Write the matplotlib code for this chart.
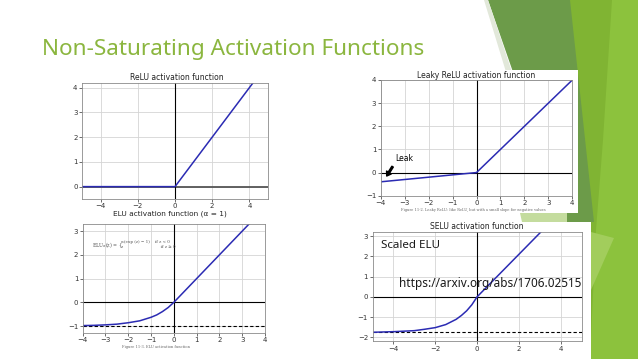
import matplotlib
matplotlib.use("Agg")
import matplotlib.pyplot as plt
from matplotlib.patches import Polygon, Rectangle

W, H = 638, 359

# values
relu_x = [-5, 0, 5]
relu_y = [0, 0, 5]

leaky_x = [-4, 0, 4]
leaky_y = [-0.4, 0, 4]

elu_x = [-4, -3.5, -3, -2.5, -2, -1.5, -1, -0.75, -0.5, -0.25, 0, 1, 2, 3, 3.5]
elu_y = [-0.98, -0.97, -0.95, -0.92, -0.86, -0.78, -0.63, -0.53, -0.39, -0.22, 0, 1, 2, 3, 3.5]
elu_floor = -1

selu_x = [-5, -4, -3, -2.5, -2, -1.5, -1, -0.75, -0.5, -0.25, 0, 1, 2, 3, 3.3]
selu_y = [-1.75, -1.72, -1.67, -1.60, -1.52, -1.37, -1.11, -0.92, -0.69, -0.39, 0, 1.05, 2.1, 3.15, 3.47]
selu_floor = -1.758

BLUE = "#2b2bb3"


def px(x, y):
    return x / W, 1 - y / H


def add_axes(x0, y0, x1, y1):
    # pixel box -> figure axes
    ax = fig.add_axes([x0 / W, 1 - y1 / H, (x1 - x0) / W, (y1 - y0) / H], zorder=2)
    ax.set_facecolor("white")
    ax.grid(True, color="#d4d4d4", lw=0.6)
    ax.set_axisbelow(True)
    ax.tick_params(labelsize=5, length=2, width=0.5, pad=1.2, colors="#333333")
    for s in ax.spines.values():
        s.set_color("#8a8a8a")
        s.set_linewidth(0.6)
    return ax


def fit_text(x, y, s, width, **kw):
    t = fig.text(*px(x, y), s, **kw)
    r = fig.canvas.get_renderer()
    w = t.get_window_extent(r).width
    t.set_fontsize(t.get_fontsize() * width / w)
    return t


fig = plt.figure(figsize=(W / 100, H / 100), dpi=100)
fig.patch.set_facecolor("white")

# slide background shapes
bg = fig.add_axes([0, 0, 1, 1], zorder=0)
bg.set_xlim(0, W)
bg.set_ylim(H, 0)
bg.axis("off")
bg.add_patch(Polygon([(568, 0), (638, 0), (638, 359), (588, 359)], color="#80b433", lw=0))
bg.add_patch(Polygon([(612, 0), (638, 0), (638, 359), (590, 359), (596, 230), (603, 140)],
                     color="#8cc23d", lw=0))
bg.add_patch(Polygon([(591, 232), (614, 238), (591, 290)], color="#a2cd5c", lw=0))
bg.add_patch(Polygon([(488, 0), (570, 0), (594, 222), (565, 222)], color="#6c9b49", lw=0))
bg.add_patch(Polygon([(484, 0), (488, 0), (512, 72), (506, 72)], color="#e2e8da", lw=0))
bg.add_patch(Polygon([(520, 213), (567, 213), (567, 222), (522, 222)], color="#c4dc9e", lw=0))
# white image panels
bg.add_patch(Rectangle((356, 70), 222, 143, color="white", lw=0))
bg.add_patch(Rectangle((352, 222), 239, 140, color="white", lw=0))

fit_text(42, 49, "Non-Saturating Activation Functions", 382,
         fontsize=17, color="#8bb63f", family="Noto Sans", va="center")

# ReLU
ax = add_axes(82, 82.7, 268, 199)
ax.plot([-5, 5], [0, 0], color="#555555", lw=1.3)
ax.axvline(0, color="black", lw=0.8)
ax.plot(relu_x, relu_y, color=BLUE, lw=1.1)
ax.set_xlim(-5, 5)
ax.set_ylim(-0.5, 4.2)
ax.set_xticks([-4, -2, 0, 2, 4])
ax.set_yticks([0, 1, 2, 3, 4])
fig.text(*px(176.7, 77.7), "ReLU activation function", fontsize=5.5,
         ha="center", va="center", color="#222222")

# Leaky ReLU
ax = add_axes(380.7, 80, 572.3, 195.7)
ax.axhline(0, color="black", lw=0.8)
ax.axvline(0, color="black", lw=0.8)
ax.plot(leaky_x, leaky_y, color=BLUE, lw=1.1)
ax.set_xlim(-4, 4)
ax.set_ylim(-1, 4)
ax.annotate("Leak", xy=(-3.78, -0.2), xytext=(-3.4, 0.62), fontsize=5.5,
            va="center", ha="left",
            arrowprops=dict(facecolor="black", edgecolor="black", shrink=0.08,
                            width=1.2, headwidth=4, headlength=3))
fig.text(*px(476, 75), "Leaky ReLU activation function", fontsize=5.5,
         ha="center", va="center", color="#222222")
fig.text(*px(473, 210.5),
         "Figure 11-2. Leaky ReLU: like ReLU, but with a small slope for negative values",
         fontsize=2.6, family="DejaVu Serif", ha="center", va="center", color="#666666")

# ELU
ax = add_axes(82.7, 224, 265, 332.7)
ax.axhline(0, color="black", lw=0.8)
ax.axvline(0, color="black", lw=0.8)
ax.axhline(elu_floor, color="black", lw=0.8, ls="--", dashes=(3, 2))
ax.plot(elu_x, elu_y, color=BLUE, lw=1.1)
ax.set_xlim(-4, 4)
ax.set_ylim(-1.28, 3.3)
ax.set_yticks([-1, 0, 1, 2, 3])
ax.text(-3.6, 2.43, r"ELU$_\alpha$(z) = $\{$", fontsize=3.4, family="DejaVu Serif",
        va="center", color="#555555")
ax.text(-2.3, 2.55, "\u03b1(exp (z) \u2212 1)    if z < 0", fontsize=3.0,
        family="DejaVu Serif", va="center", color="#555555")
ax.text(-2.3, 2.32, "z                              if z \u2265 0", fontsize=3.0,
        family="DejaVu Serif", va="center", color="#555555")
fig.text(*px(170, 213.5), "ELU activation function (\u03b1 = 1)", fontsize=5.3,
         ha="center", va="center", color="#222222")
fig.text(*px(156, 347), "Figure 11-3. ELU activation function", fontsize=2.6,
         family="DejaVu Serif", ha="center", va="center", color="#666666")

# SELU
ax = add_axes(372.5, 232, 581.7, 341.4)
ax.axhline(0, color="black", lw=0.8)
ax.axvline(0, color="black", lw=0.8)
ax.axhline(selu_floor, color="black", lw=0.8, ls="--", dashes=(3, 2))
ax.plot(selu_x, selu_y, color=BLUE, lw=1.1)
ax.set_xlim(-5, 5)
ax.set_ylim(-2.2, 3.2)
ax.set_xticks([-4, -2, 0, 2, 4])
ax.set_yticks([-2, -1, 0, 1, 2, 3])
fig.text(*px(477, 226), "SELU activation function", fontsize=5.5,
         ha="center", va="center", color="#222222")

t1 = fit_text(380.7, 246, "Scaled ELU", 59, fontsize=10, family="Noto Sans",
              va="center", color="#1a1a1a", zorder=5)
t2 = fit_text(399, 284, "https://arxiv.org/abs/1706.02515", 181, fontsize=10,
              family="Noto Sans", va="center", color="#1a1a1a", zorder=5)

fig.savefig("out.png", dpi=100)
